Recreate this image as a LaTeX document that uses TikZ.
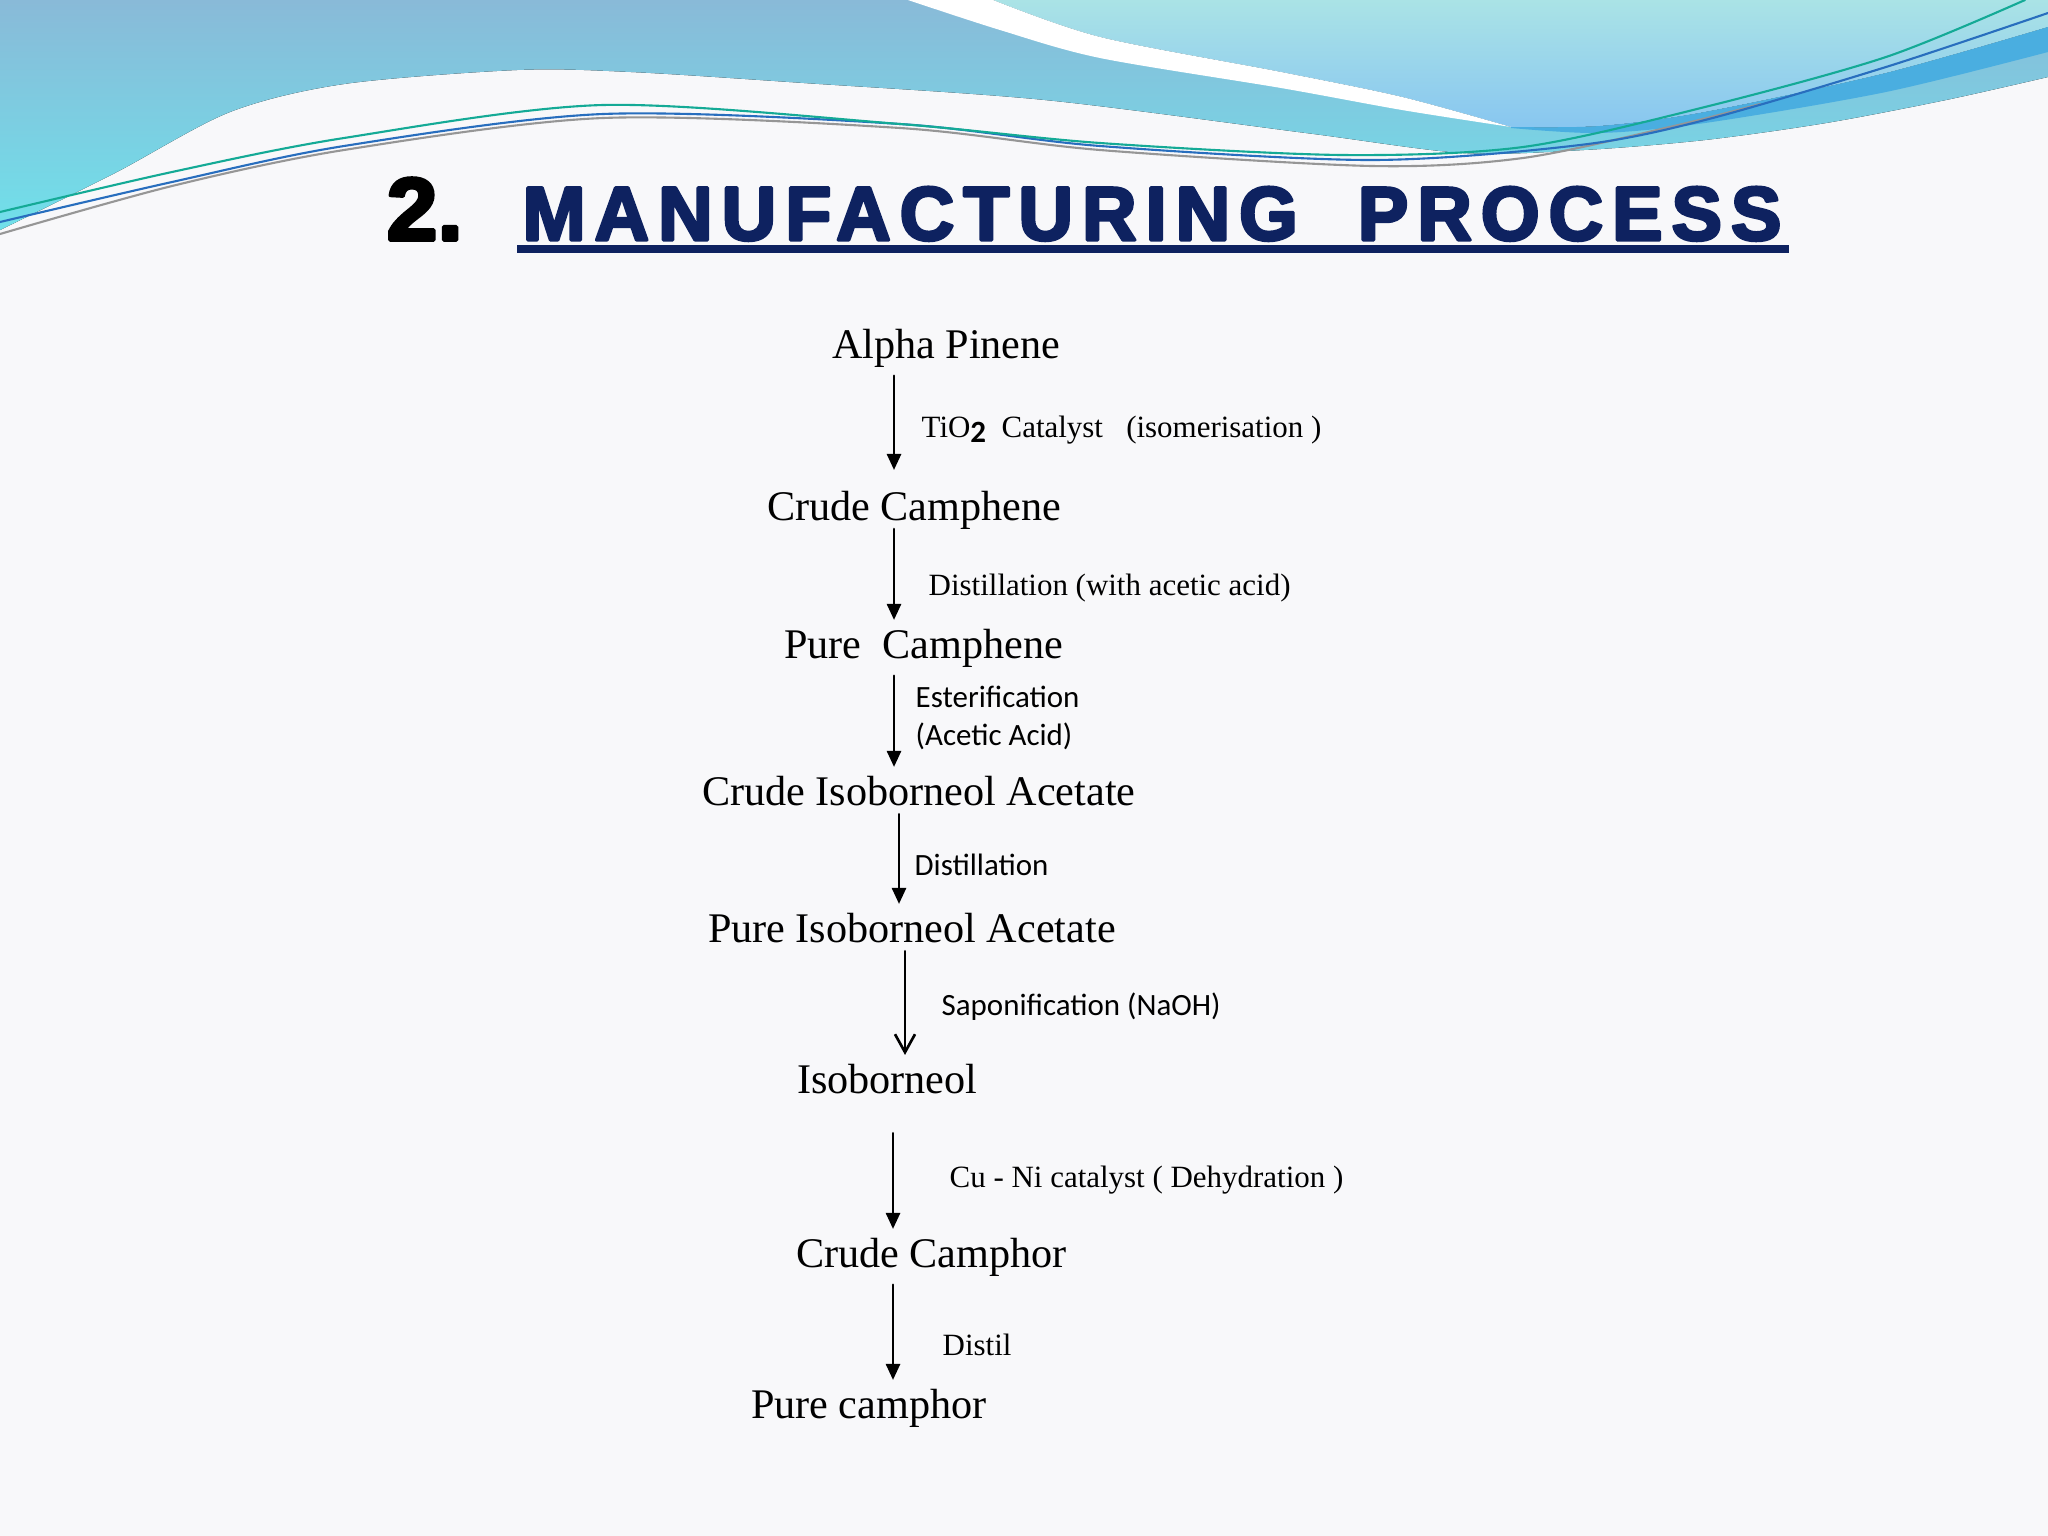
\documentclass[tikz,border=0pt]{standalone}
\usepackage{fontspec}
\setmainfont{Liberation Serif}
\newfontfamily\calfont{Carlito}
\newfontfamily\headfont{Liberation Sans}[BoldFeatures={FakeBold=4}]
\usetikzlibrary{arrows.meta}
\definecolor{paper}{RGB}{248,248,250}
\definecolor{navy}{RGB}{14,34,96}
\definecolor{skyTop}{RGB}{137,186,216}
\definecolor{skyLow}{RGB}{112,224,234}
\definecolor{paleTop}{RGB}{170,227,230}
\definecolor{paleLow}{RGB}{136,198,240}
\definecolor{bandblue}{RGB}{74,174,224}
\definecolor{lineteal}{RGB}{20,170,150}
\definecolor{lineblue}{RGB}{40,110,190}
\definecolor{linegray}{RGB}{150,150,150}
\begin{document}
\begin{tikzpicture}[x=0.01cm, y=-0.01cm, line join=round, line cap=round, >={Triangle[length=1.6mm, width=1.4mm]},
  stage/.style={font=\fontsize{12}{14}\selectfont, anchor=base west, inner sep=0pt, outer xsep=0pt, outer ysep=2.5pt},
  note/.style={font=\fontsize{8.8}{10}\selectfont, anchor=base west, inner sep=0pt},
  cnote/.style={note, font=\calfont\fontsize{8.8}{10}\selectfont},
  flow/.style={->, line width=0.75pt},
  openflow/.style={line width=0.75pt, -{Straight Barb[length=1.8mm, width=2mm]}}]
\useasboundingbox (0,0) rectangle (2048,1536);
\fill[paper] (0,0) rectangle (2048,1536);
\fill[top color=skyTop, bottom color=skyLow] (0,0) -- (2048,0) -- plot[smooth] coordinates {(2048,77) (1946,100) (1826,123) (1705,140) (1584,150) (1463,153) (1306,133) (1045,100) (804,83) (631,72) (517,70) (344,84) (230,112) (115,173) (0,230)} -- cycle;
\fill[top color=paleTop, bottom color=paleLow] (993,0) -- (2048,0) -- plot[smooth] coordinates {(2048,27) (1886,73) (1705,112) (1600,126) (1511,127)} -- plot[smooth] coordinates {(1511,127) (1402,97) (1281,72) (1100,37) (993,0)} -- cycle;
\fill[white] plot[smooth] coordinates {(908,0) (1000,30) (1100,58) (1281,88) (1402,110) (1511,127)} -- plot[smooth] coordinates {(1511,127) (1402,97) (1281,72) (1100,37) (993,0)} -- cycle;
\fill[bandblue] plot[smooth] coordinates {(1511,127) (1600,126) (1705,112) (1886,73) (2048,27)} -- (2048,52) -- plot[smooth] coordinates {(2048,52) (1886,92) (1705,123) (1600,133) (1511,128)} -- cycle;
\draw[linegray, line width=0.6pt] plot[smooth] coordinates {(0,234) (172,186) (344,150) (603,118) (900,128) (1100,150) (1372,166) (1523,158) (1674,126) (1760,104)};
\draw[lineblue, line width=0.6pt] plot[smooth] coordinates {(0,222) (172,182) (344,146) (603,114) (900,124) (1100,146) (1372,160) (1580,145) (1705,120) (1886,67) (2048,13)};
\draw[lineteal, line width=0.6pt] plot[smooth] coordinates {(0,212) (172,172) (344,138) (603,105) (900,124) (1100,143) (1342,155) (1523,147) (1705,107) (1886,57) (2025,0)};
\node[anchor=base west, inner sep=0pt] (num) at (386,240) {\resizebox{0.76cm}{0.62cm}{\headfont\bfseries 2.}};
\node[anchor=base west, inner sep=0pt, text=navy] (title) at (522,240) {\resizebox{12.58cm}{0.53cm}{\headfont\bfseries\addfontfeature{LetterSpace=12}MANUFACTURING\ \ PROCESS}};
\fill[navy] (517,245) rectangle (1789,253);
\node[stage] (pinene) at (832,358) {Alpha Pinene};
\node[stage] (ccamphene) at (767,520) {Crude Camphene};
\node[stage] (pcamphene) at (784,658) {Pure~~Camphene};
\node[stage] (cacetate) at (702,805) {Crude Isoborneol Acetate};
\node[stage] (pacetate) at (708,942) {Pure Isoborneol Acetate};
\node[stage] (isoborneol) at (797,1093) {Isoborneol};
\node[stage] (ccamphor) at (796,1267) {Crude Camphor};
\node[stage] (pcamphor) at (751,1418) {Pure camphor};
\node[note] (isomer) at (921,437) {TiO{\calfont\bfseries\raisebox{-0.35ex}{2}}~~Catalyst~~~(isomerisation~)};
\node[note] (distA) at (928,595) {Distillation (with acetic acid)};
\node[cnote] (ester) at (915,707) {Esterification};
\node[cnote] (acid) at (915,745) {(Acetic Acid)};
\node[cnote] (distB) at (914,875) {Distillation};
\node[cnote] (sapon) at (941,1015) {Saponification (NaOH)};
\node[note] (dehyd) at (949,1187) {Cu - Ni catalyst ( Dehydration )};
\node[note] (distil) at (942,1355) {Distil};
\draw[flow, shorten >=3.4pt] (pinene.south -| 894,0) -- (ccamphene.north -| 894,0);
\draw[flow, shorten <=-2.5pt] (ccamphene.south -| 894,0) -- (pcamphene.north -| 894,0);
\draw[flow] (pcamphene.south -| 894,0) -- (cacetate.north -| 894,0);
\draw[flow] (cacetate.south -| 899,0) -- (pacetate.north -| 899,0);
\draw[openflow] (pacetate.south -| 905,0) -- (isoborneol.north -| 905,0);
\draw[flow, shorten <=8.8pt] (isoborneol.south -| 893,0) -- (ccamphor.north -| 893,0);
\draw[flow] (ccamphor.south -| 893,0) -- (pcamphor.north -| 893,0);
\end{tikzpicture}
\end{document}
